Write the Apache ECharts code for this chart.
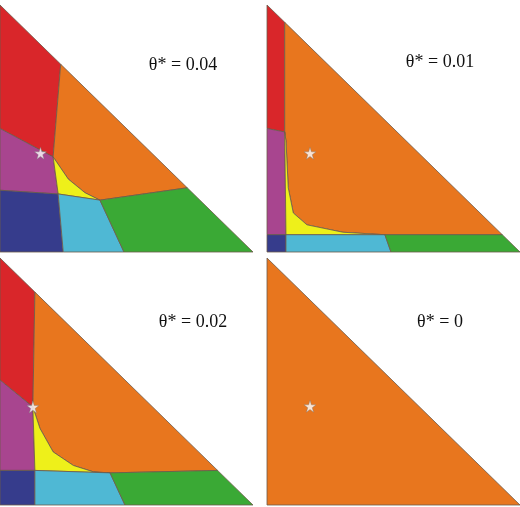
<!DOCTYPE html>
<html><head><meta charset="utf-8">
<script src="https://cdn.jsdelivr.net/npm/echarts@6/dist/echarts.min.js"></script>
<style>html,body{margin:0;padding:0;background:#fff}#c{width:520px;height:507px}</style>
</head><body><div id="c"></div>
<script>
// Coordinates in % of each panel's triangle (x right, y up)
const colors = {red:'#d9262a',orange:'#e8761e',purple:'#a8458f',navy:'#363c8c',cyan:'#4fb8d4',green:'#3aa935',yellow:'#eef01a'};
const labels = ['θ* = 0.04','θ* = 0.01','θ* = 0.02','θ* = 0'];
const stars = [[16,40],[17,40],[13,39.7],[17,40]];

const p1Red    = [[0,100],[24,76],[21,38.5],[0,50]];
const p1Orange = [[24,76],[74,26],[39.5,21],[33.6,24],[27,29.5],[21,38.5]];
const p1Purple = [[0,50],[21,38.5],[23,23.5],[0,25]];
const p1Yellow = [[21,38.5],[27,29.5],[33.6,24],[39.5,21],[23,23.5]];
const p1Navy   = [[0,25],[23,23.5],[25,0],[0,0]];
const p1Cyan   = [[23,23.5],[39.5,21],[49,0],[25,0]];
const p1Green  = [[39.5,21],[74,26],[100,0],[49,0]];

const p2Red    = [[0,100],[7,93],[7,48.6],[0,50]];
const p2Orange = [[7,93],[93,7],[46.6,7],[30,8],[15.8,11],[10.4,15.8],[8.4,26],[7.5,45],[7,48.6]];
const p2Purple = [[0,50],[7,48.6],[7.5,7],[0,7]];
const p2Yellow = [[7,48.6],[7.5,45],[8.4,26],[10.4,15.8],[15.8,11],[30,8],[46.6,7],[7.5,7]];
const p2Navy   = [[0,7],[7.5,7],[7.5,0],[0,0]];
const p2Cyan   = [[7.5,7],[46.6,7],[49,0],[7.5,0]];
const p2Green  = [[46.6,7],[93,7],[100,0],[49,0]];

const p3Red    = [[0,100],[13.8,86.2],[13,39.7],[0,50.6]];
const p3Orange = [[13.8,86.2],[86,14],[43.5,13],[37,13.4],[29,16],[21,21.5],[15.8,31],[13,39.7]];
const p3Purple = [[0,50.6],[13,39.7],[13.8,14],[0,14]];
const p3Yellow = [[13,39.7],[15.8,31],[21,21.5],[29,16],[37,13.4],[43.5,13],[13.8,14]];
const p3Navy   = [[0,14],[13.8,14],[13.8,0],[0,0]];
const p3Cyan   = [[13.8,14],[43.5,13],[49.4,0],[13.8,0]];
const p3Green  = [[43.5,13],[86,14],[100,0],[49.4,0]];

const p4Orange = [[0,100],[100,0],[0,0]];

const panels = [
  [['red',p1Red],['orange',p1Orange],['purple',p1Purple],['yellow',p1Yellow],['navy',p1Navy],['cyan',p1Cyan],['green',p1Green]],
  [['red',p2Red],['orange',p2Orange],['purple',p2Purple],['yellow',p2Yellow],['navy',p2Navy],['cyan',p2Cyan],['green',p2Green]],
  [['red',p3Red],['orange',p3Orange],['purple',p3Purple],['yellow',p3Yellow],['navy',p3Navy],['cyan',p3Cyan],['green',p3Green]],
  [['orange',p4Orange]]
];
const gridPos = [{left:0,top:5},{left:267,top:5},{left:0,top:258},{left:267,top:258}];
const labelPos = [[183,65],[440,62],[193,322],[440,322]];

const grids=[],xAxes=[],yAxes=[],series=[],graphics=[];
panels.forEach((regs,g)=>{
  grids.push({left:gridPos[g].left,top:gridPos[g].top,width:253,height:247});
  xAxes.push({type:'value',gridIndex:g,min:0,max:100,show:false});
  yAxes.push({type:'value',gridIndex:g,min:0,max:100,show:false});
  series.push({
    type:'custom',xAxisIndex:g,yAxisIndex:g,silent:true,
    data:regs.map(r=>r[1][0]),
    renderItem:(params,api)=>{
      const r=regs[params.dataIndex];
      return {type:'polygon',shape:{points:r[1].map(p=>api.coord(p))},
        style:{fill:colors[r[0]],stroke:'#6d5a4a',lineWidth:0.8}};
    }
  });
  series.push({type:'scatter',xAxisIndex:g,yAxisIndex:g,silent:true,z:5,
    data:[stars[g]],
    symbol:'path://M50,0 L61,35 L98,35 L68,57 L79,91 L50,70 L21,91 L32,57 L2,35 L39,35 Z',
    symbolSize:12,itemStyle:{color:'#fff',borderColor:'#777',borderWidth:0.5}});
  graphics.push({type:'text',x:labelPos[g][0],y:labelPos[g][1],
    style:{text:labels[g],font:'18px "Liberation Serif", serif',fill:'#111',align:'center',verticalAlign:'middle'}});
});
const chart=echarts.init(document.getElementById('c'),null,{renderer:'canvas'});
chart.setOption({animation:false,grid:grids,xAxis:xAxes,yAxis:yAxes,series:series,graphic:graphics});
</script></body></html>
